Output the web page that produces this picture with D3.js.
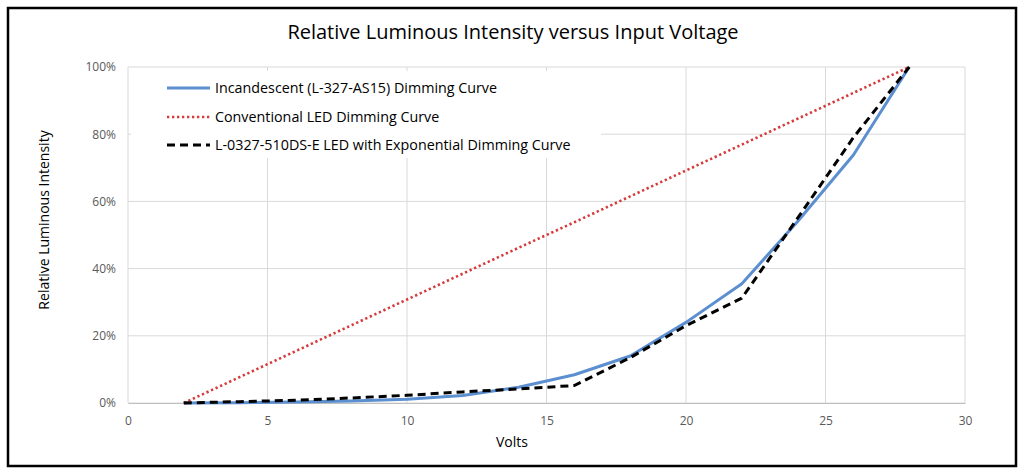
<!DOCTYPE html>
<html>
<head>
<meta charset="utf-8">
<script src="https://cdn.jsdelivr.net/npm/d3@7"></script>
<style>
  html, body { margin: 0; padding: 0; background: #fff; }
  svg { display: block; }
  text { font-family: "Open Sans", "Noto Sans", sans-serif; }
</style>
</head>
<body>
<svg id="chart" width="1024" height="475"></svg>
<script>
const volts = [2, 4, 6, 8, 10, 12, 14, 16, 18, 20, 22, 24, 26, 28];
const incandescent = [0, 0.1, 0.3, 0.6, 1.1, 2.2, 4.7, 8.4, 14.0, 24.0, 35.5, 54.0, 73.8, 100];
const conventional = [0, 7.7, 15.4, 23.1, 30.8, 38.5, 46.2, 53.8, 61.5, 69.2, 76.9, 84.6, 92.3, 100];
const exponential = [0, 0.4, 0.8, 1.5, 2.3, 3.3, 4.2, 5.2, 13.5, 23.0, 31.2, 55.0, 79.0, 100];
const seriesNames = [
  "Incandescent (L-327-AS15) Dimming Curve",
  "Conventional LED Dimming Curve",
  "L-0327-510DS-E LED with Exponential Dimming Curve"
];
const xTicks = [0, 5, 10, 15, 20, 25, 30];
const yTicks = [0, 20, 40, 60, 80, 100];
const title = "Relative Luminous Intensity versus Input Voltage";
const xTitle = "Volts";
const yTitle = "Relative Luminous Intensity";

const svg = d3.select("#chart");
const W = 1024, H = 475;
const m = { left: 128, right: 965, top: 67, bottom: 403 };

const x = d3.scaleLinear().domain([0, 30]).range([m.left, m.right]);
const y = d3.scaleLinear().domain([0, 100]).range([m.bottom, m.top]);

svg.append("rect").attr("x", 0).attr("y", 0).attr("width", W).attr("height", H).attr("fill", "#fff");

// frame
svg.append("rect").attr("x", 8).attr("y", 8).attr("width", 1008).attr("height", 458)
  .attr("fill", "none").attr("stroke", "#000").attr("stroke-width", 2.5);

// title
svg.append("text").attr("x", 513).attr("y", 39).attr("text-anchor", "middle")
  .attr("font-size", 20).attr("fill", "#000").text(title);

// gridlines
const grid = svg.append("g");
grid.selectAll("line.v").data(xTicks).enter().append("line")
  .attr("x1", d => x(d)).attr("x2", d => x(d)).attr("y1", m.top).attr("y2", m.bottom)
  .attr("stroke", "#d9d9d9").attr("stroke-width", 1);
grid.selectAll("line.h").data(yTicks).enter().append("line")
  .attr("x1", m.left).attr("x2", m.right).attr("y1", d => y(d)).attr("y2", d => y(d))
  .attr("stroke", "#d9d9d9").attr("stroke-width", 1);

// x axis
const xAxis = svg.append("g").attr("transform", `translate(0,${m.bottom})`)
  .call(d3.axisBottom(x).tickValues(xTicks).tickSize(0).tickPadding(13));
xAxis.select(".domain").attr("stroke", "#bfbfbf");
xAxis.selectAll("text").attr("font-size", 12).attr("fill", "#595959")
  .attr("font-family", "\"Open Sans\", sans-serif");

// y axis
const yAxis = svg.append("g").attr("transform", `translate(${m.left},0)`)
  .call(d3.axisLeft(y).tickValues(yTicks).tickSize(0).tickPadding(12).tickFormat(d => d + "%"));
yAxis.select(".domain").remove();
yAxis.selectAll("text").attr("font-size", 12).attr("fill", "#595959")
  .attr("font-family", "\"Open Sans\", sans-serif");

// axis titles
svg.append("text").attr("x", 512).attr("y", 447).attr("text-anchor", "middle")
  .attr("font-size", 14).attr("fill", "#000").text(xTitle);
svg.append("text").attr("transform", `translate(49,220) rotate(-90)`).attr("text-anchor", "middle")
  .attr("font-size", 14).attr("fill", "#000").text(yTitle);

// legend background
svg.append("rect").attr("x", 131).attr("y", 71).attr("width", 470).attr("height", 87).attr("fill", "#fff");

const line = d3.line().x(d => x(d[0])).y(d => y(d[1]));
const styles = [
  { values: incandescent, color: "#5b8fd0", width: 3, dash: null },
  { values: conventional, color: "#d63a3a", width: 2.6, dash: "2.3,2.7" },
  { values: exponential, color: "#000", width: 3, dash: "8,5" }
];

const plot = svg.append("g");
styles.forEach(s => {
  plot.append("path").datum(volts.map((v, i) => [v, s.values[i]]))
    .attr("d", line).attr("fill", "none").attr("stroke", s.color)
    .attr("stroke-width", s.width).attr("stroke-linejoin", "round")
    .attr("stroke-dasharray", s.dash);
});

// legend
const legY = [88, 117, 145];
const leg = svg.append("g");
styles.forEach((s, i) => {
  leg.append("line").attr("x1", 167).attr("x2", 210).attr("y1", legY[i]).attr("y2", legY[i])
    .attr("stroke", s.color).attr("stroke-width", s.width).attr("stroke-dasharray", s.dash);
  leg.append("text").attr("x", 215).attr("y", legY[i]).attr("dy", "0.35em")
    .attr("font-size", 14.3).attr("fill", "#000").text(seriesNames[i]);
});
</script>
</body>
</html>
